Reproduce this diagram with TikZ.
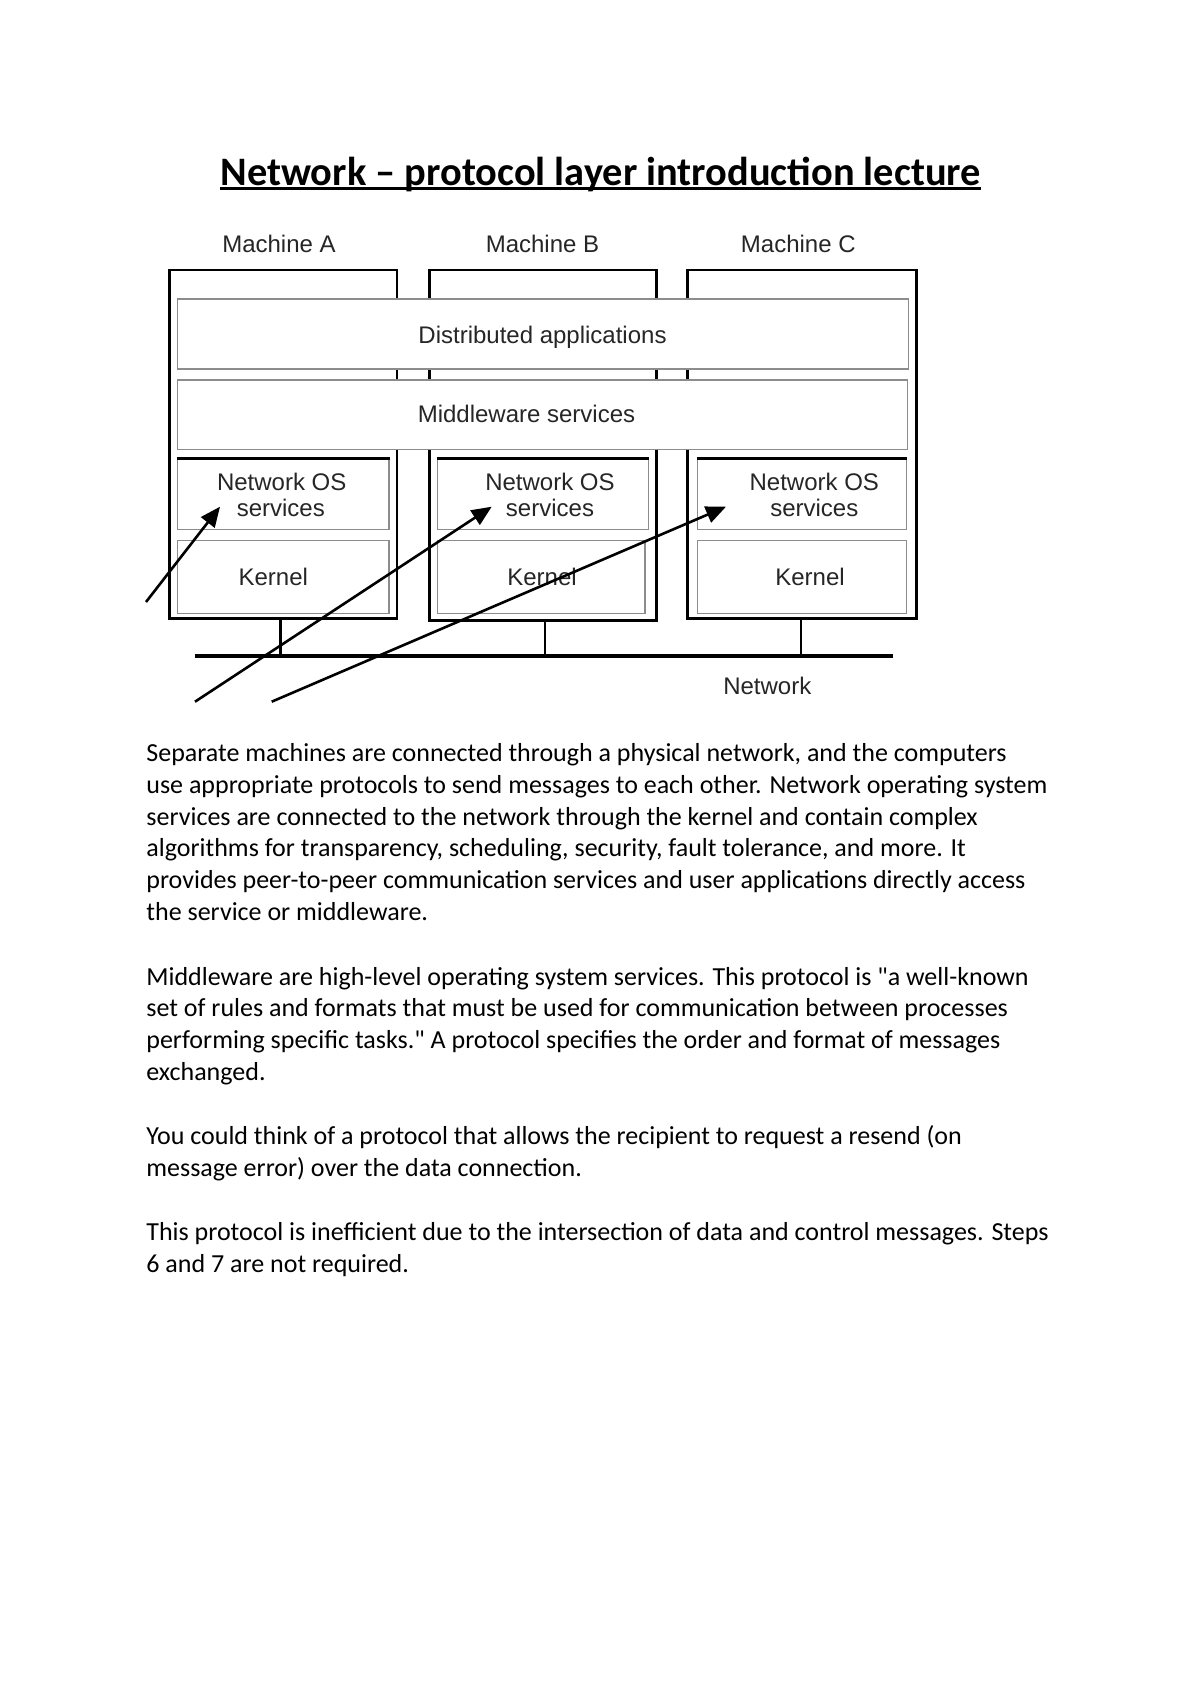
\documentclass[tikz,border=0pt]{standalone}
\usepackage{fontspec}
\setmainfont{Carlito}
\newfontfamily\bodyfont{Carlito}
\newfontfamily\diagfont{Liberation Sans}
\usetikzlibrary{fit,arrows.meta}
\tikzset{
  txt/.style={anchor=base west, inner sep=0pt, font=\bodyfont\fontsize{13}{15}\selectfont},
  dlabel/.style={anchor=base, inner sep=0pt, text=black!85, font=\diagfont\fontsize{12}{14}\selectfont},
  machine/.style={draw=black, line width=1.35pt, fill=white, inner sep=0pt},
  layer/.style={draw=black!45, line width=0.75pt, fill=white, inner sep=0pt},
  topedge/.style={draw=black, line width=1.35pt},
  stem/.style={draw=black, line width=1.35pt},
  netline/.style={draw=black, line width=1.7pt},
  arr/.style={draw=black, line width=1.3pt, -{Triangle[length=10pt,width=8.5pt]}},
  uline/.style={draw=black, line width=1.5pt}
}
\begin{document}
\begin{tikzpicture}[x=0.5pt,y=-0.5pt]
\useasboundingbox[fill=white] (0,0) rectangle (1200,1698);

% title
\node[anchor=base, inner sep=0pt, font=\bodyfont\bfseries\fontsize{20.2}{24}\selectfont] (title) at (600.7,185) {Network – protocol layer introduction lecture};
\draw[uline] ([yshift=-1.7pt]title.base west) -- ([yshift=-1.7pt]title.base east);

% machine labels
\node[dlabel] (labA) at (279,252.7) {Machine A};
\node[dlabel] (labB) at (542.5,252.7) {Machine B};
\node[dlabel] (labC) at (798.3,252.7) {Machine C};

% machine outer boxes
\node[machine, fit={(169.3,270) (397,618.3)}] (machA) {};
\node[machine, fit={(429.3,270) (656.7,620.7)}] (machB) {};
\node[machine, fit={(687.3,270) (916.7,618.3)}] (machC) {};

% network
\coordinate (netL) at (195,656);
\coordinate (netR) at (893.3,656);
\draw[netline] (netL) -- (netR);
\coordinate (sAt) at (280.7,618.3); \coordinate (sAb) at (280.7,656);
\coordinate (sBt) at (545,620.7);   \coordinate (sBb) at (545,656);
\coordinate (sCt) at (801,618.3);   \coordinate (sCb) at (801,656);
\draw[stem] (sAt) -- (sAb);
\draw[stem] (sBt) -- (sBb);
\draw[stem] (sCt) -- (sCb);
\node[dlabel] (netlab) at (767.3,694) {Network};

% shared layers
\node[layer, fit={(177.7,299) (908.3,369)}] (dist) {};
\node[dlabel] (distT) at (542.5,343.3) {Distributed applications};
\node[layer, fit={(177.7,380) (907.3,449.3)}] (mid) {};
\node[dlabel] (midT) at (526.5,422.3) {Middleware services};

% network OS boxes
\node[layer, fit={(177.7,459) (389,529.3)}] (nosA) {};
\node[layer, fit={(437.7,459) (648.3,529.3)}] (nosB) {};
\node[layer, fit={(697.7,459) (906.7,529.3)}] (nosC) {};
\draw[topedge] (nosA.north west) -- (nosA.north east);
\draw[topedge] (nosB.north west) -- (nosB.north east);
\draw[topedge] (nosC.north west) -- (nosC.north east);
\node[dlabel] (nosA1) at (281.7,490.7) {Network OS};
\node[dlabel] (nosA2) at (280.8,516) {services};
\node[dlabel] (nosB1) at (550,490.7) {Network OS};
\node[dlabel] (nosB2) at (550,516) {services};
\node[dlabel] (nosC1) at (814.3,490.7) {Network OS};
\node[dlabel] (nosC2) at (814.3,516) {services};

% kernel boxes
\node[layer, fit={(177.7,540.7) (389,613.7)}] (kerA) {};
\node[layer, fit={(437.7,540.7) (645,613.7)}] (kerB) {};
\node[layer, fit={(697.7,540.7) (906.7,613.7)}] (kerC) {};
\node[dlabel] (kerAT) at (273.3,585) {Kernel};
\node[dlabel] (kerBT) at (542,585) {Kernel};
\node[dlabel] (kerCT) at (810,585) {Kernel};

% arrows
\coordinate (a1s) at (146,602);   \coordinate (a1e) at (220,506.7);
\coordinate (a2s) at (195,701.7); \coordinate (a2e) at (491.7,506.7);
\coordinate (a3s) at (271.7,701.7); \coordinate (a3e) at (726,506.7);
\draw[arr] (a1s) -- (a1e);
\draw[arr] (a2s) -- (a2e);
\draw[arr] (a3s) -- (a3e);

% body text
\node[txt] (p1a) at (146,761.7) {Separate machines are connected through a physical network, and the computers};
\node[txt] (p1b) at (146,793.4) {use appropriate protocols to send messages to each other. Network operating system};
\node[txt] (p1c) at (146,825.1) {services are connected to the network through the kernel and contain complex};
\node[txt] (p1d) at (146,856.8) {algorithms for transparency, scheduling, security, fault tolerance, and more. It};
\node[txt] (p1e) at (146,888.5) {provides peer-to-peer communication services and user applications directly access};
\node[txt] (p1f) at (146,920.2) {the service or middleware.};

\node[txt] (p2a) at (146,985) {Middleware are high-level operating system services. This protocol is "a well-known};
\node[txt] (p2b) at (146,1016.7) {set of rules and formats that must be used for communication between processes};
\node[txt] (p2c) at (146,1048.4) {performing specific tasks." A protocol specifies the order and format of messages};
\node[txt] (p2d) at (146,1080.1) {exchanged.};

\node[txt] (p3a) at (146,1144.3) {You could think of a protocol that allows the recipient to request a resend (on};
\node[txt] (p3b) at (146,1176) {message error) over the data connection.};

\node[txt] (p4a) at (146,1240.7) {This protocol is inefficient due to the intersection of data and control messages. Steps};
\node[txt] (p4b) at (146,1272.4) {6 and 7 are not required.};
\end{tikzpicture}
\end{document}
